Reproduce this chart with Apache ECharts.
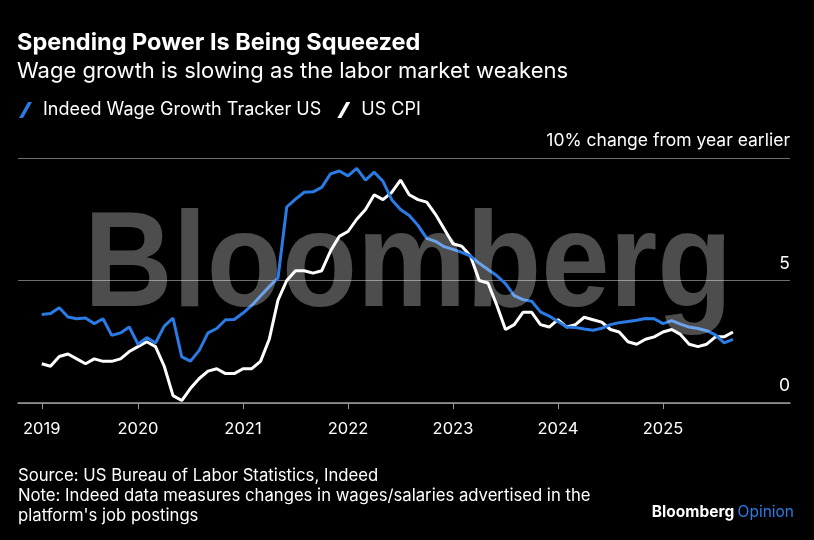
<!DOCTYPE html>
<html>
<head>
<meta charset="utf-8">
<script src="https://cdn.jsdelivr.net/npm/echarts@6/dist/echarts.min.js"></script>
<style>
  html, body { margin: 0; padding: 0; background: #000; }
  #chart { width: 814px; height: 540px; }
</style>
</head>
<body>
<div id="chart"></div>
<script>
  // monthly readings, Jan 2019 .. Aug 2025
  const startYear = 2019;
  const wageGrowth = [
    3.61, 3.65, 3.89, 3.51, 3.44, 3.47, 3.24, 3.44, 2.76, 2.86, 3.10, 2.40,
    2.67, 2.45, 3.14, 3.47, 1.88, 1.71, 2.15, 2.86, 3.04, 3.40, 3.41, 3.67,
    3.98, 4.37, 4.75, 5.10, 8.00, 8.32, 8.60, 8.62, 8.80, 9.35, 9.47, 9.27,
    9.58, 9.10, 9.42, 9.05, 8.30, 7.90, 7.65, 7.25, 6.72, 6.60, 6.38, 6.27,
    6.15, 6.00, 5.70, 5.45, 5.20, 4.87, 4.38, 4.22, 4.15, 3.72, 3.55, 3.33,
    3.10, 3.08, 3.02, 2.97, 3.05, 3.20, 3.28, 3.33, 3.38, 3.45, 3.44, 3.24,
    3.36, 3.22, 3.10, 3.04, 2.95, 2.78, 2.45, 2.60
  ];
  const usCpi = [
    1.6, 1.5, 1.9, 2.0, 1.8, 1.6, 1.8, 1.7, 1.7, 1.8, 2.1, 2.3,
    2.5, 2.3, 1.5, 0.3, 0.1, 0.6, 1.0, 1.3, 1.4, 1.2, 1.2, 1.4,
    1.4, 1.7, 2.6, 4.2, 5.0, 5.4, 5.4, 5.3, 5.4, 6.2, 6.8, 7.0,
    7.5, 7.9, 8.5, 8.3, 8.6, 9.1, 8.5, 8.3, 8.2, 7.7, 7.1, 6.5,
    6.4, 6.0, 5.0, 4.9, 4.0, 3.0, 3.2, 3.7, 3.7, 3.2, 3.1, 3.4,
    3.1, 3.2, 3.5, 3.4, 3.3, 3.0, 2.9, 2.5, 2.4, 2.6, 2.7, 2.9,
    3.0, 2.8, 2.4, 2.3, 2.4, 2.7, 2.7, 2.9
  ];
  const yearTicks = [2019 + 1 / 12, 2020, 2021, 2022, 2023, 2024, 2025];

  // values are plotted at the end of each month
  function toPairs(values) {
    return values.map((v, i) => [startYear + (i + 1) / 12, v]);
  }

  const BLUE = '#2a7be4';
  const FONT = 'Inter, "Noto Sans", sans-serif';
  const slash = 'path://M9,0 L13,0 L4,16 L0,16 Z';

  let chart = echarts.init(document.getElementById('chart'));
  let option = {
    backgroundColor: '#000',
    animation: false,
    title: {
      text: 'Spending Power Is Being Squeezed',
      subtext: 'Wage growth is slowing as the labor market weakens',
      left: 12,
      top: 26,
      itemGap: 5,
      textStyle: { color: '#fff', fontFamily: FONT, fontSize: 23.5, fontWeight: 'bold' },
      subtextStyle: { color: '#fff', fontFamily: FONT, fontSize: 22 }
    },
    legend: {
      left: 14,
      top: 96,
      itemWidth: 13,
      itemHeight: 16,
      itemGap: 16,
      textStyle: { color: '#fff', fontFamily: FONT, fontSize: 18, padding: [0, 0, 0, 6] },
      data: [
        { name: 'Indeed Wage Growth Tracker US', icon: slash, itemStyle: { color: BLUE } },
        { name: 'US CPI', icon: slash, itemStyle: { color: '#fff' } }
      ]
    },
    grid: { left: 18, right: 24, top: 158, bottom: 137 },
    xAxis: {
      type: 'value',
      min: 2018.857,
      max: 2026.21,
      axisLine: { show: true, lineStyle: { color: '#9a9a9a', width: 1.5 } },
      axisTick: { show: true, customValues: yearTicks, length: 6, lineStyle: { color: '#9a9a9a' } },
      axisLabel: {
        customValues: yearTicks,
        color: '#fff',
        fontFamily: FONT,
        fontSize: 16.5,
        margin: 18,
        formatter: v => String(Math.floor(v + 1e-6))
      },
      splitLine: { show: false }
    },
    yAxis: {
      type: 'value',
      position: 'right',
      min: 0,
      max: 10,
      interval: 5,
      axisLine: { show: false },
      axisTick: { show: false },
      axisLabel: {
        inside: true,
        margin: 0,
        verticalAlign: 'bottom',
        padding: [0, 0, 8, 0],
        color: '#fff',
        fontFamily: FONT,
        fontSize: 17.5,
        formatter: v => v === 10 ? '10% change from year earlier' : String(v)
      },
      splitLine: { lineStyle: { color: '#6e6e6e', width: 1 } }
    },
    series: [
      {
        name: 'Indeed Wage Growth Tracker US',
        type: 'line',
        data: toPairs(wageGrowth),
        symbol: 'none',
        lineStyle: { color: BLUE, width: 3 },
        itemStyle: { color: BLUE },
        z: 3
      },
      {
        name: 'US CPI',
        type: 'line',
        data: toPairs(usCpi),
        symbol: 'none',
        lineStyle: { color: '#fff', width: 3 },
        itemStyle: { color: '#fff' },
        z: 2
      }
    ],
    graphic: [
      {
        type: 'text',
        x: 84,
        y: 200,
        scaleX: 0.975,
        scaleY: 1.08,
        z: 100,
        silent: true,
        style: {
          text: 'Bloomberg',
          fill: 'rgba(255,255,255,0.3)',
          font: 'bold 126px "Liberation Sans", Arial, sans-serif'
        }
      },
      {
        type: 'text',
        left: 18,
        top: 466,
        style: {
          text: 'Source: US Bureau of Labor Statistics, Indeed\nNote: Indeed data measures changes in wages/salaries advertised in the\nplatform\'s job postings',
          fill: '#fff',
          font: '16.7px ' + FONT,
          lineHeight: 20
        }
      },
      {
        type: 'text',
        right: 20,
        top: 504,
        style: {
          text: '{a|Bloomberg} {b|Opinion}',
          rich: {
            a: { fill: '#fff', fontFamily: FONT, fontSize: 15.5, fontWeight: 'bold' },
            b: { fill: BLUE, fontFamily: FONT, fontSize: 15.5 }
          }
        }
      }
    ]
  };
  chart.setOption(option);
</script>
</body>
</html>
